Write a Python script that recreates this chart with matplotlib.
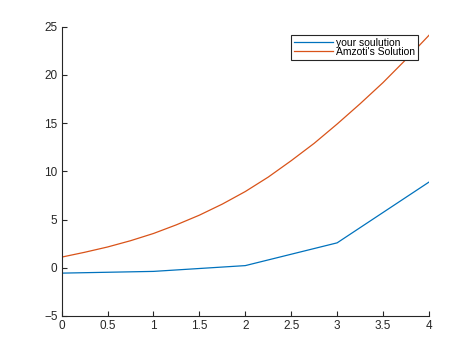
import matplotlib
matplotlib.use("Agg")
import matplotlib.pyplot as plt

x_yours = [0, 1, 2, 3, 4]
y_yours = [-0.56, -0.38, 0.22, 2.58, 8.88]

x_amz = [0, 0.25, 0.5, 0.75, 1, 1.25, 1.5, 1.75, 2, 2.25, 2.5, 2.75, 3, 3.25, 3.5, 3.75, 4]
y_amz = [1.1, 1.6, 2.15, 2.8, 3.55, 4.45, 5.45, 6.6, 7.9, 9.4, 11.1, 12.9, 14.9, 17.0, 19.2, 21.6, 24.1]

labels = ["your soulution", "Amzoti's Solution"]
xticks = [0, 0.5, 1, 1.5, 2, 2.5, 3, 3.5, 4]
xticklabels = ["0", "0.5", "1", "1.5", "2", "2.5", "3", "3.5", "4"]
yticks = [-5, 0, 5, 10, 15, 20, 25]

plt.rcParams['font.family'] = ['Liberation Sans', 'DejaVu Sans']
fig = plt.figure(figsize=(4.74, 3.55), dpi=100)
ax = fig.add_axes([0.13, 0.11, 0.775, 0.815])

ax.plot(x_yours, y_yours, color='#0072BD', lw=0.9, label=labels[0])
ax.plot(x_amz, y_amz, color='#D95319', lw=0.9, label=labels[1])

ax.set_xlim(0, 4)
ax.set_ylim(-5, 25)
ax.set_xticks(xticks)
ax.set_xticklabels(xticklabels)
ax.set_yticks(yticks)
for s in ['top', 'right']:
    ax.spines[s].set_visible(False)
for s in ['left', 'bottom']:
    ax.spines[s].set_color('#262626')
    ax.spines[s].set_linewidth(0.8)
ax.tick_params(direction='in', length=3.5, width=0.8, colors='#262626', labelsize=8.5, pad=3)

leg = ax.legend(loc='upper right', bbox_to_anchor=(0.97, 0.972), fontsize=7.5,
                frameon=True, fancybox=False, framealpha=1, edgecolor='#262626',
                handlelength=3.7, handletextpad=0.3, labelspacing=-0.1,
                borderpad=0.3, borderaxespad=0)
leg.get_frame().set_linewidth(0.8)

fig.savefig("out.png", dpi=100)
